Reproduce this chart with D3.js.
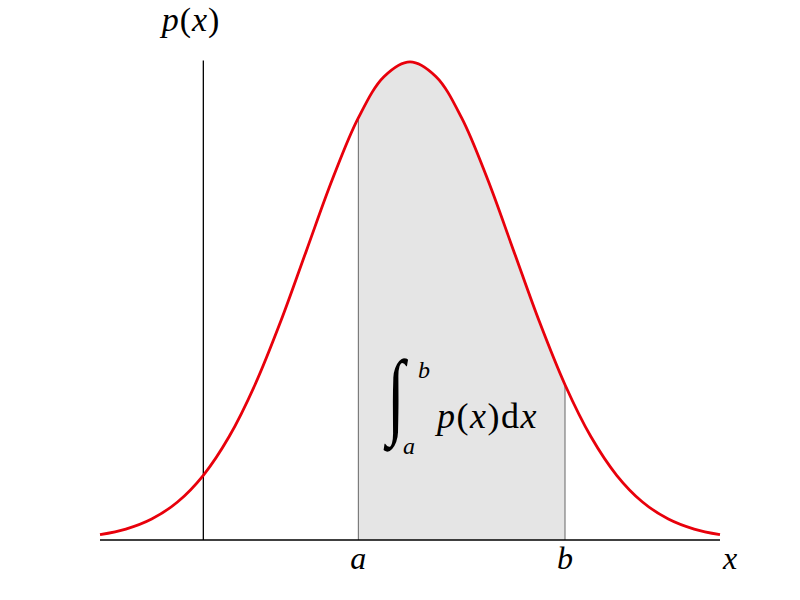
<!DOCTYPE html>
<html>
<head>
<meta charset="utf-8">
<script src="https://cdn.jsdelivr.net/npm/d3@7"></script>
<style>
  body { margin: 0; background: #fff; }
  text { font-family: "Liberation Serif", serif; fill: #000; }
</style>
</head>
<body>
<div id="chart"></div>
<script>
var xs = [-3, -2.75, -2.5, -2.25, -2, -1.75, -1.5, -1.25, -1, -0.75, -0.5, -0.25, 0,
          0.25, 0.5, 0.75, 1, 1.25, 1.5, 1.75, 2, 2.25, 2.5, 2.75, 3];
var ps = [0.0044, 0.0091, 0.0175, 0.0317, 0.054, 0.0863, 0.1295, 0.1826, 0.242, 0.3011, 0.3521, 0.3867, 0.3989,
          0.3867, 0.3521, 0.3011, 0.242, 0.1826, 0.1295, 0.0863, 0.054, 0.0317, 0.0175, 0.0091, 0.0044];
var axisAt = -2;     // where the p(x) axis stands
var bounds = [-0.5, 1.5]; // a, b
var boundLabels = ["a", "b"];

var width = 800, height = 600;

var data = xs.map(function(x, i) { return {x: x, p: ps[i]}; });

var x = d3.scaleLinear().domain([-3, 3]).range([100, 720]);
var y = d3.scaleLinear().domain([0, 0.4]).range([540, 60.5]);

var svg = d3.select("#chart").append("svg")
  .attr("width", width)
  .attr("height", height);

// clip the shaded area to [a, b]
svg.append("clipPath").attr("id", "ab")
  .append("rect")
  .attr("x", x(bounds[0]))
  .attr("y", 0)
  .attr("width", x(bounds[1]) - x(bounds[0]))
  .attr("height", height);

var area = d3.area()
  .x(function(d) { return x(d.x); })
  .y0(y(0))
  .y1(function(d) { return y(d.p); })
  .curve(d3.curveCatmullRom);

svg.append("path")
  .datum(data)
  .attr("d", area)
  .attr("clip-path", "url(#ab)")
  .style("fill", "#e5e5e5");

// edges of the shaded region
bounds.forEach(function(b) {
  var pt = data.find(function(d) { return d.x === b; });
  svg.append("line")
    .attr("x1", x(b)).attr("x2", x(b))
    .attr("y1", y(0)).attr("y2", y(pt.p))
    .style("stroke", "#666")
    .style("stroke-width", 1);
});

// baseline and vertical axis
svg.append("line")
  .attr("x1", x(-3)).attr("x2", x(3))
  .attr("y1", y(0)).attr("y2", y(0))
  .style("stroke", "#000").style("stroke-width", 1.3);

svg.append("line")
  .attr("x1", x(axisAt)).attr("x2", x(axisAt))
  .attr("y1", y(0)).attr("y2", y(0.4))
  .style("stroke", "#000").style("stroke-width", 1.3);

// the density curve
var line = d3.line()
  .x(function(d) { return x(d.x); })
  .y(function(d) { return y(d.p); })
  .curve(d3.curveCatmullRom);

svg.append("path")
  .datum(data)
  .attr("d", line)
  .style("fill", "none")
  .style("stroke", "#e8000b")
  .style("stroke-width", 2.8);

// labels
svg.selectAll(".blabel")
  .data(bounds)
  .enter().append("text")
  .attr("class", "blabel")
  .attr("x", function(d) { return x(d); })
  .attr("y", 569)
  .attr("text-anchor", "middle")
  .style("font-size", "32px")
  .style("font-style", "italic")
  .text(function(d, i) { return boundLabels[i]; });

svg.append("text")
  .attr("x", 730).attr("y", 569)
  .attr("text-anchor", "middle")
  .style("font-size", "32px")
  .style("font-style", "italic")
  .text("x");

var ylab = svg.append("text")
  .attr("x", 191).attr("y", 31)
  .attr("text-anchor", "middle")
  .style("font-size", "34px")
  .style("letter-spacing", "1px");
ylab.append("tspan").style("font-style", "italic").text("p");
ylab.append("tspan").text("(");
ylab.append("tspan").style("font-style", "italic").text("x");
ylab.append("tspan").text(")");

// integral annotation
var g = svg.append("g");
g.append("text")
  .attr("transform", "translate(387,426) scale(0.9,1.32)")
  .style("font-size", "72px")
  .style("font-style", "italic")
  .text("\u222B");
g.append("text")
  .attr("x", 418).attr("y", 378)
  .style("font-size", "24px")
  .style("font-style", "italic")
  .text("b");
g.append("text")
  .attr("x", 403).attr("y", 454)
  .style("font-size", "24px")
  .style("font-style", "italic")
  .text("a");
var integrand = g.append("text")
  .attr("x", 437).attr("y", 428)
  .style("font-size", "36px")
  .style("letter-spacing", "1.5px");
integrand.append("tspan").style("font-style", "italic").text("p");
integrand.append("tspan").text("(");
integrand.append("tspan").style("font-style", "italic").text("x");
integrand.append("tspan").text(")d");
integrand.append("tspan").style("font-style", "italic").text("x");
</script>
</body>
</html>
